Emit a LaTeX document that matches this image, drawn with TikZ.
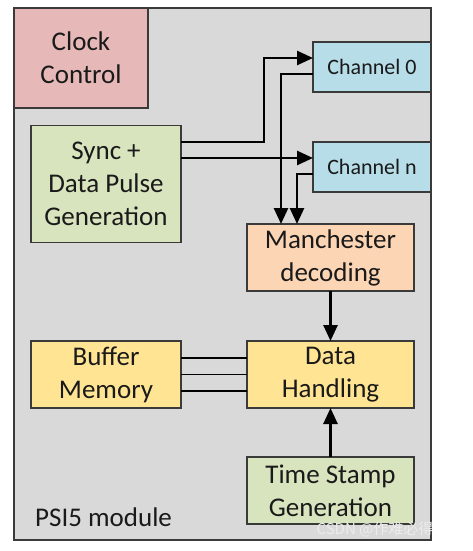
\documentclass[tikz,border=0pt]{standalone}
\usepackage{fontspec}
\setmainfont{Carlito}
\newfontfamily\cjkfont{Noto Sans CJK SC}
\usetikzlibrary{arrows.meta}
\definecolor{outergray}{HTML}{D9D9D9}
\definecolor{clockpink}{HTML}{E6B9B8}
\definecolor{chanblue}{HTML}{B7DDE8}
\definecolor{syncgreen}{HTML}{D7E4BD}
\definecolor{manpeach}{HTML}{FCD5B5}
\definecolor{datayellow}{HTML}{FFE593}
\definecolor{borderc}{HTML}{3A3A3A}
\definecolor{textc}{HTML}{1A1A1A}
\tikzset{
  blk/.style={draw=borderc, line width=1.3pt, inner sep=0pt, outer sep=0pt, align=center,
    text=textc, font=\fontsize{27}{33}\selectfont},
  chan/.style={blk, fill=chanblue, font=\fontsize{22}{27}\selectfont},
  conn/.style={line width=2.6pt, draw=black, -{Triangle[length=16pt,width=14pt]}},
  thinconn/.style={line width=1.3pt, draw=black}
}
\begin{document}
\begin{tikzpicture}[x=1pt,y=-1pt]
\useasboundingbox (0,0) rectangle (473,551);
\fill[white] (0,0) rectangle (473,551);
\draw[fill=outergray, draw=borderc, line width=1.3pt] (14,8) rectangle (431,540);
% blocks
\node[blk, fill=clockpink, minimum width=134pt, minimum height=100pt] (clock) at (81,58) {Clock\\Control};
\node[blk, fill=syncgreen, minimum width=150pt, minimum height=117pt] (sync) at (106,184) {Sync +\\Data Pulse\\Generation};
\node[chan, minimum width=118pt, minimum height=50pt] (ch0) at (372,67) {Channel 0};
\node[chan, minimum width=118pt, minimum height=50pt] (chn) at (372,167) {Channel n};
\node[blk, fill=manpeach, minimum width=167pt, minimum height=67pt] (man) at (330.5,257.5) {Manchester\\decoding};
\node[blk, fill=datayellow, minimum width=150pt, minimum height=67pt] (buf) at (106,374.5) {Buffer\\Memory};
\node[blk, fill=datayellow, minimum width=167pt, minimum height=67pt] (data) at (330.5,374.5) {Data\\Handling};
\node[blk, fill=syncgreen, minimum width=167pt, minimum height=67pt] (ts) at (330.5,490.5) {Time Stamp\\Generation};
\node[text=textc, font=\fontsize{27}{33}\selectfont, anchor=west, inner sep=0pt] (lbl) at (35,517) {PSI5 module};
% connectors
\draw[conn] (sync.east |- 0,142) -| (264,58) -- (ch0.west |- 0,58);
\draw[conn] (sync.east |- 0,158) -- (chn.west |- 0,158);
\draw[conn] (ch0.west |- 0,74) -| (man.north -| 281,0);
\draw[conn] (chn.west |- 0,174) -| (man.north -| 297,0);
\draw[conn] (man.south) -- (data.north);
\draw[conn] (ts.north) -- (data.south);
\draw[thinconn] (buf.east |- 0,358) -- (data.west |- 0,358);
\draw[thinconn] (buf.east |- 0,374.5) -- (data.west |- 0,374.5);
\draw[thinconn] (buf.east |- 0,391) -- (data.west |- 0,391);
% watermark
\node[text=white!85!gray, font=\cjkfont\fontsize{15}{18}\selectfont, inner sep=0pt] (wm) at (375,530) {CSDN @作难必得};
\end{tikzpicture}
\end{document}
